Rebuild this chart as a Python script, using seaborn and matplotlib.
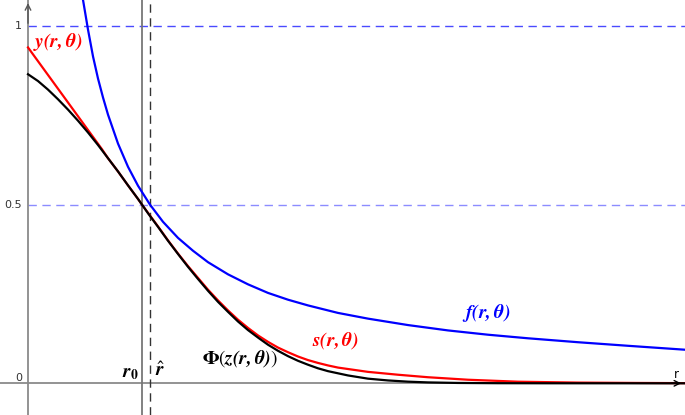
import pandas as pd
import seaborn as sns
import matplotlib.pyplot as plt

# values (r axis: 0 at the y axis)
r_black = [0.0, 0.1, 0.2, 0.3, 0.4, 0.5, 0.6, 0.7, 0.8, 0.9, 1.0, 1.1, 1.2, 1.3, 1.4, 1.5, 1.6,
           1.7, 1.8, 1.9, 2.0, 2.1, 2.2, 2.3, 2.4, 2.5, 2.6, 2.7, 2.8, 2.9, 3.0, 3.2, 3.4, 3.6,
           3.8, 4.0, 4.3, 4.7, 5.2, 6.57]
phi_vals = [0.865, 0.846, 0.822, 0.795, 0.766, 0.735, 0.702, 0.667, 0.630, 0.593, 0.554, 0.516,
            0.476, 0.438, 0.399, 0.362, 0.326, 0.292, 0.259, 0.228, 0.200, 0.173, 0.149, 0.128,
            0.108, 0.091, 0.076, 0.063, 0.052, 0.042, 0.034, 0.022, 0.013, 0.008, 0.0046, 0.0025,
            0.001, 0.0003, 0.0001, 0.0]

r_red = [0.0, 0.74, 0.8, 0.9, 1.0, 1.1, 1.14, 1.2, 1.3, 1.4, 1.5, 1.6, 1.7, 1.8, 1.9, 2.0, 2.1,
         2.2, 2.3, 2.4, 2.5, 2.6, 2.7, 2.8, 2.9, 3.0, 3.1, 3.2, 3.4, 3.7, 4.0, 4.4, 4.9, 5.5, 6.1, 6.57]
s_vals = [0.940, 0.655, 0.630, 0.593, 0.554, 0.516, 0.500, 0.477, 0.439, 0.400, 0.363, 0.328,
          0.295, 0.262, 0.232, 0.204, 0.178, 0.155, 0.134, 0.116, 0.100, 0.087, 0.075, 0.065,
          0.057, 0.050, 0.044, 0.040, 0.032, 0.024, 0.017, 0.010, 0.0045, 0.002, 0.001, 0.0005]

r_blue = [0.54, 0.57, 0.6, 0.65, 0.7, 0.75, 0.8, 0.9, 1.0, 1.1, 1.22, 1.35, 1.5, 1.65, 1.8, 2.0,
          2.2, 2.4, 2.6, 2.8, 3.1, 3.4, 3.8, 4.2, 4.6, 5.0, 5.5, 6.0, 6.57]
f_vals = [1.09, 1.04, 0.99, 0.915, 0.853, 0.80, 0.752, 0.671, 0.606, 0.553, 0.5, 0.452, 0.407,
          0.371, 0.339, 0.305, 0.277, 0.253, 0.234, 0.218, 0.197, 0.181, 0.163, 0.148, 0.136,
          0.126, 0.115, 0.105, 0.094]

r0 = 1.14
r_hat = 1.215
y_ticks = [0, 0.5, 1]
y_tick_labels = ["0", "0.5", "1"]

plt.rcParams['mathtext.fontset'] = 'stix'

fig = plt.figure(figsize=(6.85, 4.15), dpi=100)
ax = fig.add_axes([0, 0, 1, 1])

# dashed reference levels, starting at the y axis
ax.hlines(1.0, 0, 6.57, color="#4a4aff", lw=1, ls=(0, (6, 4)))
ax.hlines(0.5, 0, 6.57, color="#8c8cff", lw=1, ls=(0, (6, 4)))

# axes drawn geogebra-style
ax.axhline(0, color="#8a8a8a", lw=1.3)
ax.axvline(0, color="#8a8a8a", lw=1.3)
ax.axvline(r0, color="#777777", lw=1.3)
ax.axvline(r_hat, color="#333333", lw=1, ls=(0, (6, 4)))
ax.annotate("", xy=(6.56, 0), xytext=(6.4, 0),
            arrowprops=dict(arrowstyle="->", color="black", lw=1))
ax.annotate("", xy=(0, 1.072), xytext=(0, 1.0),
            arrowprops=dict(arrowstyle="->", color="#555555", lw=1))

blue = pd.DataFrame({"r": r_blue, "v": f_vals})
red = pd.DataFrame({"r": r_red, "v": s_vals})
black = pd.DataFrame({"r": r_black, "v": phi_vals})
sns.lineplot(data=blue, x="r", y="v", color="#0000ff", lw=1.6, sort=False, ax=ax)
sns.lineplot(data=red, x="r", y="v", color="#ff0000", lw=1.6, sort=False, ax=ax)
sns.lineplot(data=black, x="r", y="v", color="black", lw=1.6, sort=False, ax=ax)

ax.set_xlim(-0.28, 6.57)
ax.set_ylim(-0.0887, 1.0728)
ax.axis("off")

for t, lab in zip(y_ticks, y_tick_labels):
    yy = 0.016 if t == 0 else t
    ax.text(-0.06, yy, lab, ha="right", va="center", fontsize=8, color="#333333")
ax.text(6.48, 0.025, "r", ha="center", va="center", fontsize=8.5, color="black")

ax.text(0.05, 0.955, r"$\mathbfit{y(r,\theta)}$", color="#ff0000", fontsize=14, va="center")
ax.text(2.84, 0.121, r"$\mathbfit{s(r,\theta)}$", color="#ff0000", fontsize=14, va="center")
ax.text(4.34, 0.197, r"$\mathbfit{f(r,\theta)}$", color="#0000ff", fontsize=14, va="center")
ax.text(1.74, 0.068, r"$\mathbf{\Phi}\left(\mathbfit{z(r,\theta)}\right)$", color="black",
        fontsize=14, va="center")
ax.text(0.94, 0.03, r"$\mathbfit{r}_\mathbf{0}$", color="black", fontsize=14, va="center")
ax.text(1.27, 0.035, r"$\hat{\mathbfit{r}}$", color="black", fontsize=14, va="center")

fig.savefig("out.png", dpi=100)
